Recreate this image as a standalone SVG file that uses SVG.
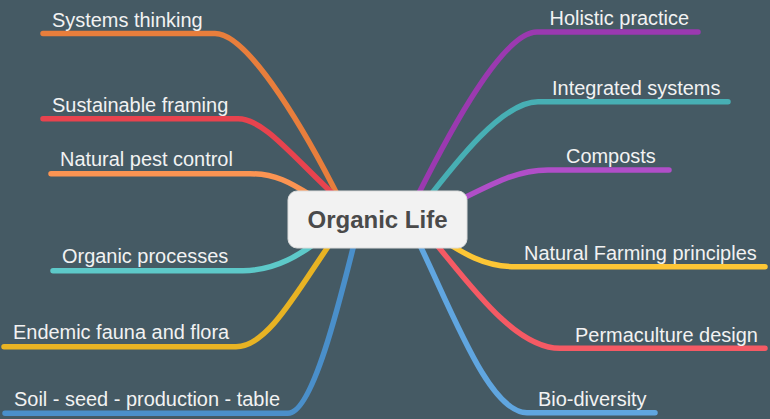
<svg xmlns="http://www.w3.org/2000/svg" width="770" height="419" viewBox="0 0 770 419">
<style>
.br{fill:none;stroke-width:5.5;stroke-linecap:round;stroke-linejoin:round}
.lb{font-family:"Liberation Sans",Arial,sans-serif;font-size:19.95px;fill:#f2f2f2}
.ct{font-family:"Liberation Sans",Arial,sans-serif;font-size:24px;font-weight:bold;fill:#4a4a4a}
</style>
<rect x="0" y="0" width="770" height="419" fill="#455a64"/>
<g id="connectors">
<path class="br" stroke="#e87e3c" d="M340,200 C310,140 250,33.5 215,33.5 H43"/>
<path class="br" stroke="#e8434e" d="M345,205 C295,160 265,118.7 238,118.7 H43"/>
<path class="br" stroke="#fb9452" d="M322,202 C295,186 280,173.7 250,173.7 H51"/>
<path class="br" stroke="#5dc9c9" d="M330,232 C300,256 275,270.7 243,270.7 H53"/>
<path class="br" stroke="#e8b323" d="M343,225 C300,285 270,346.7 236,346.7 H4"/>
<path class="br" stroke="#4a8fca" d="M360,220 C338,310 312,413.3 288,413.3 H5"/>
<path class="br" stroke="#9b39b0" d="M408,215 C440,150 500,32 537,32 H698"/>
<path class="br" stroke="#47afb4" d="M415,215 C450,170 500,101.7 538,101.7 H728"/>
<path class="br" stroke="#b04ec8" d="M440,210 C490,185 515,170 548,170 H669"/>
<path class="br" stroke="#fdc635" d="M430,232 C465,255 485,266.7 515,266.7 H765"/>
<path class="br" stroke="#f55a64" d="M420,225 C460,270 510,348.3 560,348.3 H765"/>
<path class="br" stroke="#60a6e0" d="M405,215 C445,290 485,412.7 527,412.7 H655"/>
</g>
<g id="center">
<rect x="288" y="191" width="179" height="57" rx="9" fill="#f2f2f2" stroke="#dcdcdc" stroke-width="1"/>
<text class="ct" x="377.5" y="227.8" text-anchor="middle">Organic Life</text>
</g>
<g id="n1"><text class="lb" x="52" y="27">Systems thinking</text></g>
<g id="n2"><text class="lb" x="52" y="111.7">Sustainable framing</text></g>
<g id="n3"><text class="lb" x="60" y="166">Natural pest control</text></g>
<g id="n4"><text class="lb" x="62" y="263.3">Organic processes</text></g>
<g id="n5"><text class="lb" x="13" y="339.3">Endemic fauna and flora</text></g>
<g id="n6"><text class="lb" x="14" y="406">Soil - seed - production - table</text></g>
<g id="n7"><text class="lb" x="549.5" y="25">Holistic practice</text></g>
<g id="n8"><text class="lb" x="552" y="95">Integrated systems</text></g>
<g id="n9"><text class="lb" x="566" y="162.7">Composts</text></g>
<g id="n10"><text class="lb" x="524" y="260">Natural Farming principles</text></g>
<g id="n11"><text class="lb" x="575" y="341.7">Permaculture design</text></g>
<g id="n12"><text class="lb" x="538" y="405.7">Bio-diversity</text></g>
</svg>
